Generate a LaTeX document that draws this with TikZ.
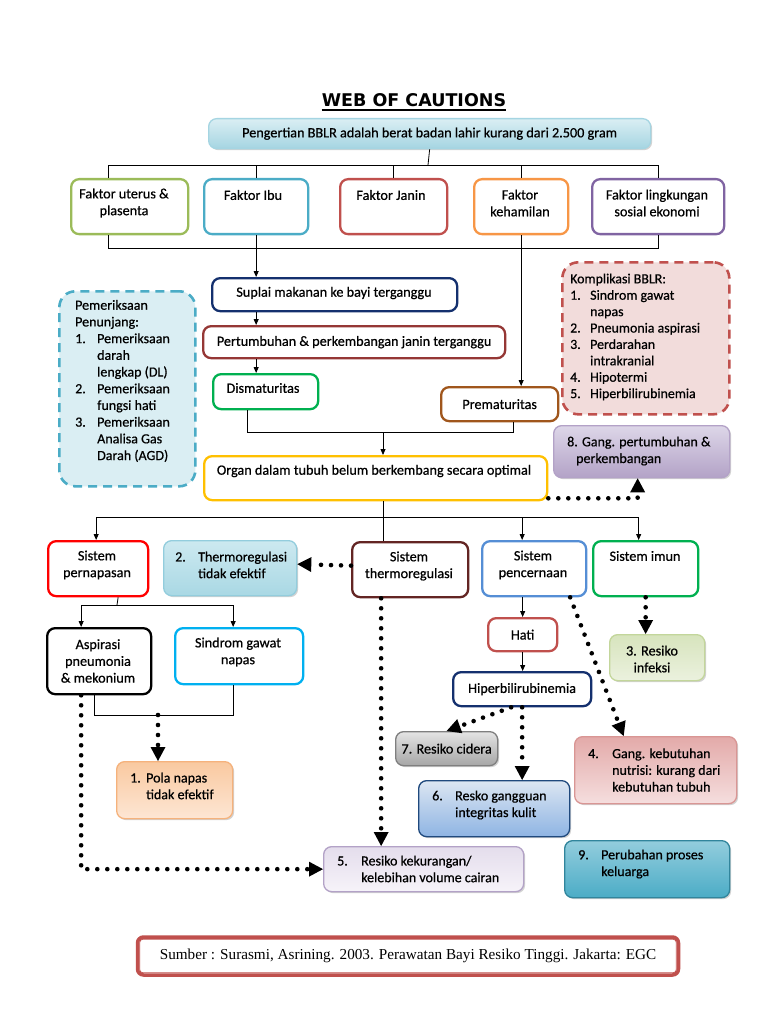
\documentclass[tikz,border=0pt]{standalone}
\usepackage{fontspec}
\setmainfont{Carlito}[FakeBold=0.6]
\newfontfamily\titlefont{DejaVu Sans}
\newfontfamily\srcfont{Liberation Serif}
\usetikzlibrary{arrows.meta,shadows,calc}
\definecolor{cFu}{HTML}{9BBB59}
\definecolor{cFi}{HTML}{4BACC6}
\definecolor{cFj}{HTML}{C0504D}
\definecolor{cFk}{HTML}{F79646}
\definecolor{cFl}{HTML}{8064A2}
\definecolor{cNavy}{HTML}{14306E}
\definecolor{cPert}{HTML}{953735}
\definecolor{cGreen}{HTML}{00B050}
\definecolor{cPrem}{HTML}{A0561C}
\definecolor{cOrg}{HTML}{FFC000}
\definecolor{cResp}{HTML}{FF0000}
\definecolor{cTherm}{HTML}{632523}
\definecolor{cDig}{HTML}{558ED5}
\definecolor{cSgn}{HTML}{00B0F0}
\definecolor{cHati}{HTML}{C0504D}
\definecolor{cSrc}{HTML}{C0504D}
\definecolor{tB}{HTML}{A5D5E2}\definecolor{tT}{HTML}{DAEEF3}\definecolor{tBo}{HTML}{A5D5E2}
\definecolor{pemF}{HTML}{DAEEF3}
\definecolor{kompF}{HTML}{F2DCDB}
\definecolor{eB}{HTML}{B3A2C7}\definecolor{eT}{HTML}{DDD6E8}\definecolor{eBo}{HTML}{B3A2C7}
\definecolor{twB}{HTML}{93CDDD}\definecolor{twT}{HTML}{CDE9F0}\definecolor{twBo}{HTML}{A9D8E4}
\definecolor{oB}{HTML}{F5B27C}\definecolor{oT}{HTML}{F9C9A0}\definecolor{oBo}{HTML}{FDE6D4}
\definecolor{sB}{HTML}{7F7F7F}\definecolor{sT}{HTML}{E4E4E4}\definecolor{sBo}{HTML}{A6A6A6}
\definecolor{xB}{HTML}{1F497D}\definecolor{xT}{HTML}{DCE6F2}\definecolor{xBo}{HTML}{8EB4E3}
\definecolor{fB}{HTML}{D99694}\definecolor{fT}{HTML}{E3AAA9}\definecolor{fBo}{HTML}{F5DEDE}
\definecolor{hB}{HTML}{C3D69B}\definecolor{hT}{HTML}{D7E4BD}\definecolor{hBo}{HTML}{EBF1DE}
\definecolor{vB}{HTML}{B3A2C7}\definecolor{vT}{HTML}{E4DDEC}\definecolor{vBo}{HTML}{F6F3F9}
\definecolor{nB}{HTML}{31859C}\definecolor{nT}{HTML}{93CDDD}\definecolor{nBo}{HTML}{4BACC6}
\begin{document}
\begin{tikzpicture}[x=1pt,y=-1pt,
  txt/.style={font=\fontsize{14.2}{16.8}\selectfont, inner sep=0pt, align=center},
  ltxt/.style={font=\fontsize{14}{16.7}\selectfont, inner sep=0pt, align=left, anchor=west},
  box/.style={draw=#1, rounded corners=8pt, line width=2.3pt, fill=white, anchor=north west, inner sep=0pt},
  gbox/.style n args={3}{draw=#1, top color=#2, bottom color=#3, rounded corners=8pt, line width=1.3pt, anchor=north west, inner sep=0pt,
     drop shadow={shadow xshift=1.5pt, shadow yshift=-1.5pt, opacity=0.35}},
  dbox/.style n args={2}{draw=#1, fill=#2, rounded corners=16pt, line width=2.6pt, dash pattern=on 9pt off 6pt, anchor=north west, inner sep=0pt},
  link/.style={line width=0.8pt},
  arr/.style={link, -{Triangle[length=6pt,width=5pt]}},
  dots/.style={line width=4.6pt, dash pattern=on 0pt off 10pt, line cap=round},
  darr/.style={dots, -{Triangle[length=14pt,width=15pt,line width=0pt]}}
]
\useasboundingbox (0,0) rectangle (768,1024);
\fill[white] (0,0) rectangle (768,1024);

% title
\node[inner sep=0pt, font=\titlefont\bfseries\fontsize{17.5}{20}\selectfont] (title) at (414,100) {WEB OF CAUTIONS};
\draw[line width=1.4pt] ([yshift=-3pt]title.south west) -- ([yshift=-3pt]title.south east);

% top box
\node[gbox={tB}{tT}{tBo}, minimum width=442pt, minimum height=30pt] (top) at (208,118) {};
\node[txt] (topT) at (top.center) {Pengertian BBLR adalah berat badan lahir kurang dari 2.500 gram};

% faktor boxes
\node[box=cFu, minimum width=117pt, minimum height=55pt] (fu) at (70,178) {};
\node[box=cFi, minimum width=104pt, minimum height=55pt] (fi) at (203,178) {};
\node[box=cFj, minimum width=107pt, minimum height=55pt] (fj) at (339,178) {};
\node[box=cFk, minimum width=94pt, minimum height=55pt] (fk) at (473,178) {};
\node[box=cFl, minimum width=132pt, minimum height=55pt] (fl) at (591,178) {};
\node[txt] (fuT) at (124,203) {Faktor uterus \&\\plasenta};
\node[txt] (fiT) at (253,195) {Faktor Ibu};
\node[txt] (fjT) at (391,195) {Faktor Janin};
\node[txt] (fkT) at (520,203) {Faktor\\kehamilan};
\node[txt] (flT) at (657,203) {Faktor lingkungan\\sosial ekonomi};

\coordinate (bus1) at (428,165);
\draw[link] (top.south) -- (bus1);
\draw[link] ([xshift=38pt]fu.north west) |- (fl.north |- bus1) -- (fl.north);
\draw[link] (fi.north) -- (fi.north |- bus1);
\draw[link] (fj.north) -- (fj.north |- bus1);
\draw[link] (fk.north) -- (fk.north |- bus1);

% second level
\node[box=cNavy, minimum width=245pt, minimum height=33pt] (sup) at (211,277) {};
\node[txt] (supT) at (334,293) {Suplai makanan ke bayi terganggu};
\node[box=cPert, minimum width=302pt, minimum height=32pt] (pert) at (202,325) {};
\node[txt] (pertT) at (pert.center) {Pertumbuhan \& perkembangan janin terganggu};
\node[box=cGreen, minimum width=105pt, minimum height=35pt] (dism) at (212,373) {};
\node[txt] (dismT) at (263,388) {Dismaturitas};
\node[box=cPrem, minimum width=117pt, minimum height=34pt] (prem) at (440,386) {};
\node[txt] (premT) at (prem.center) {Prematuritas};

\coordinate (bus2) at (400,248);
\draw[link] ([xshift=38pt]fu.south west) |- (fl.south |- bus2) -- (fl.south);
\draw[arr] (fi.south) -- (sup.north -| fi.south);
\draw[arr] (fk.south) -- (prem.north -| fk.south);
\draw[arr] (sup.south -| fi.south) -- (pert.north -| fi.south);
\draw[arr] (pert.south -| fi.south) -- (dism.north -| fi.south);

% dashed boxes
\node[dbox={cFi}{pemF}, minimum width=136pt, minimum height=195pt] (pem) at (58,290) {};
\node[ltxt] (pemT) at (75,381) {Pemeriksaan\\Penunjang:\\\makebox[22pt][l]{1.}Pemeriksaan\\\hspace*{22pt}darah\\\hspace*{22pt}lengkap (DL)\\\makebox[22pt][l]{2.}Pemeriksaan\\\hspace*{22pt}fungsi hati\\\makebox[22pt][l]{3.}Pemeriksaan\\\hspace*{22pt}Analisa Gas\\\hspace*{22pt}Darah (AGD)};
\node[dbox={cFj}{kompF}, minimum width=167pt, minimum height=152pt] (komp) at (561,261) {};
\node[ltxt, font=\fontsize{13.9}{16.4}\selectfont] (kompT) at (570,337) {Komplikasi BBLR:\\\makebox[20pt][l]{1.}Sindrom gawat\\\hspace*{20pt}napas\\\makebox[20pt][l]{2.}Pneumonia aspirasi\\\makebox[20pt][l]{3.}Perdarahan\\\hspace*{20pt}intrakranial\\\makebox[20pt][l]{4.}Hipotermi\\\makebox[20pt][l]{5.}Hiperbilirubinemia};

% organ
\node[box=cOrg, minimum width=343pt, minimum height=44pt] (org) at (203,455) {};
\node[txt] (orgT) at (374,471) {Organ dalam tubuh belum berkembang secara optimal};
\node[gbox={eB}{eT}{eBo}, minimum width=176pt, minimum height=52pt] (g8) at (553,425) {};
\node[ltxt] (g8T) at (567,451) {8. Gang. pertumbuhan \&\\\hspace*{9pt}perkembangan};

\coordinate (bus3) at (383,432);
\draw[link] ([xshift=35pt]dism.south west) |- ([xshift=-46pt]prem.south east |- bus3) -- ([xshift=-46pt]prem.south east);
\draw[arr] (bus3) -- (bus3 |- org.north);
\draw[darr] ([yshift=3pt]org.south east) -| ([xshift=-4pt]g8.south);

% systems
\node[box=cResp, minimum width=100pt, minimum height=55pt] (resp) at (47,540) {};
\node[txt] (respT) at (97,565) {Sistem\\pernapasan};
\node[gbox={twB}{twT}{twBo}, minimum width=133pt, minimum height=55pt] (t2) at (163,540) {};
\node[ltxt] (t2T) at (175,565) {\makebox[23pt][l]{2.}Thermoregulasi\\\hspace*{23pt}tidak efektif};
\node[box=cTherm, minimum width=116pt, minimum height=55pt] (therm) at (351,541) {};
\node[txt] (thermT) at (409,566) {Sistem\\thermoregulasi};
\node[box=cDig, minimum width=104pt, minimum height=55pt] (dig) at (481,540) {};
\node[txt] (digT) at (533,565) {Sistem\\pencernaan};
\node[box=cGreen, minimum width=105pt, minimum height=55pt] (imun) at (592,540) {};
\node[txt] (imunT) at (645,556) {Sistem imun};

\coordinate (bus4) at (383,517);
\draw[link] (org.south -| bus3) -- (therm.north -| bus3);
\draw[arr] ([xshift=-7pt]imun.north |- bus4) -- ([xshift=-2pt]resp.north |- bus4) -- ([xshift=-2pt]resp.north);
\draw[arr] ([xshift=-12pt]dig.north |- bus4) -- ([xshift=-12pt]dig.north);
\draw[arr] ([xshift=-7pt]imun.north |- bus4) -- ([xshift=-7pt]imun.north);
\draw[darr] ([yshift=4pt]therm.west) -- ([yshift=4pt]t2.east);

% respiratory branch
\node[box=black, minimum width=104pt, minimum height=66pt] (asp) at (46,627) {};
\node[txt] (aspT) at (98,661) {Aspirasi\\pneumonia\\\& mekonium};
\node[box=cSgn, minimum width=128pt, minimum height=56pt] (sgn) at (174,627) {};
\node[txt] (sgnT) at (238,652) {Sindrom gawat\\napas};
\node[gbox={oB}{oT}{oBo}, minimum width=116pt, minimum height=57pt] (pola) at (116,761) {};
\node[ltxt] (polaT) at (130,786) {\makebox[16pt][l]{1.}Pola napas\\\hspace*{16pt}tidak efektif};

\coordinate (bus5) at (117,605);
\draw[link] ([xshift=20pt]resp.south) -- (bus5);
\draw[arr] (bus5) -| ([xshift=-18pt]asp.north);
\draw[arr] (bus5) -| ([xshift=-6pt]sgn.north);
\coordinate (bus6) at (158,715);
\draw[link] ([xshift=-5pt]asp.south) |- ([xshift=-6pt]sgn.south |- bus6) -- ([xshift=-6pt]sgn.south);
\draw[darr] (bus6) -- (bus6 |- pola.north);

% digestive branch
\node[box=cHati, minimum width=69pt, minimum height=33pt] (hati) at (487,617) {};
\node[txt] (hatiT) at (hati.center) {Hati};
\node[box=cNavy, minimum width=138pt, minimum height=34pt] (hip) at (452,671) {};
\node[txt] (hipT) at (hip.center) {Hiperbilirubinemia};
\node[gbox={sB}{sT}{sBo}, minimum width=102pt, minimum height=34pt] (r7) at (395,731) {};
\node[txt] (r7T) at (r7.center) {7. Resiko cidera};
\node[gbox={xB}{xT}{xBo}, minimum width=151pt, minimum height=56pt] (r6) at (418,780) {};
\node[ltxt] (r6T) at (432,805) {\makebox[23pt][l]{6.}Resko gangguan\\\hspace*{23pt}integritas kulit};
\node[gbox={fB}{fT}{fBo}, minimum width=162pt, minimum height=67pt] (r4) at (574,736) {};
\node[ltxt] (r4T) at (588,770) {\makebox[24pt][l]{4.}Gang. kebutuhan\\\hspace*{24pt}nutrisi: kurang dari\\\hspace*{24pt}kebutuhan tubuh};
\node[gbox={hB}{hT}{hBo}, minimum width=95pt, minimum height=46pt] (r3) at (609,634) {};
\node[txt] (r3T) at (652,659) {3. Resiko\\infeksi};
\node[gbox={vB}{vT}{vBo}, minimum width=200pt, minimum height=45pt] (r5) at (323,846) {};
\node[ltxt] (r5T) at (337,869) {\makebox[24pt][l]{5.}Resiko kekurangan/\\\hspace*{24pt}kelebihan volume cairan};
\node[gbox={nB}{nT}{nBo}, minimum width=165pt, minimum height=57pt] (r9) at (564,840) {};
\node[ltxt] (r9T) at (578,864) {\makebox[23pt][l]{9.}Perubahan proses\\\hspace*{23pt}keluarga};

\draw[arr] (hati.north |- dig.south) -- (hati.north);
\draw[arr] (hati.south) -- (hati.south |- hip.north);
\draw[darr] ([xshift=-11pt]hip.south) -- (r7.north);
\draw[darr] (hip.south) -- (hip.south |- r6.north);
\draw[darr] ([xshift=36pt]dig.south) -- ([xshift=-32pt]r4.north);
\draw[darr] (imun.south) -- (imun.south |- r3.north);
\draw[darr] ([xshift=-18pt]asp.south) |- (r5.west);
\draw[darr] ([xshift=-29pt]therm.south) -- ([xshift=-29pt]therm.south |- r5.north);

% source
\node[draw=cSrc, line width=3.5pt, rounded corners=6pt, minimum width=541pt, minimum height=38pt, inner sep=0pt,
      font=\srcfont\fontsize{15.2}{18}\selectfont] (src) at (408,956) {Sumber : Surasmi, Asrining. 2003. Perawatan Bayi Resiko Tinggi. Jakarta: EGC};
\draw[cSrc, line width=0.8pt, rounded corners=3pt] ([shift={(4pt,4pt)}]src.south west) rectangle ([shift={(-4pt,-4pt)}]src.north east);
\end{tikzpicture}
\end{document}
